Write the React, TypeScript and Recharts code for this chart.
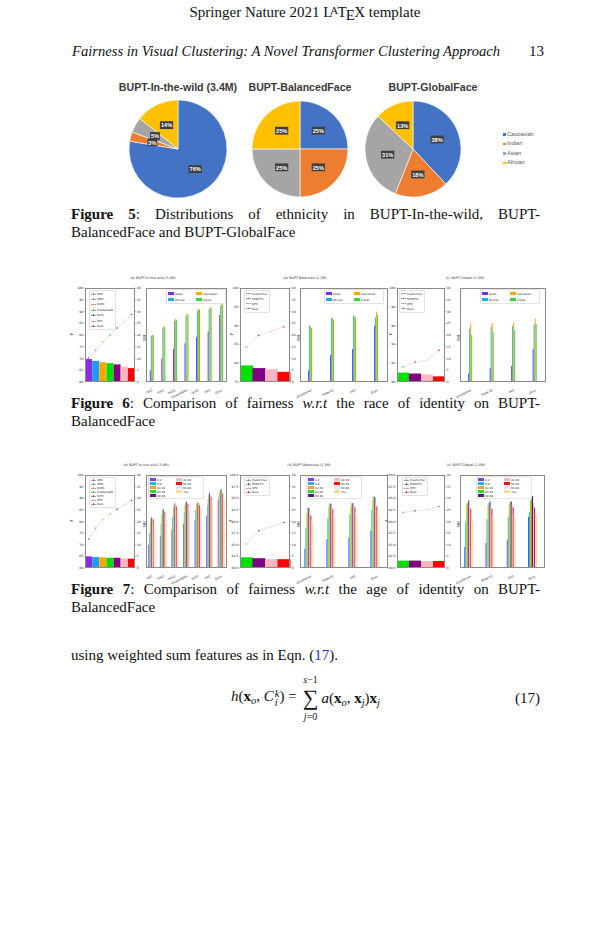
import React from 'react';
import { PieChart, Pie, Cell, ComposedChart, BarChart, Bar, Line, XAxis, YAxis } from 'recharts';

// ---------------- Figure 5 data ----------------
const ethnicities = ['Caucasian', 'Indian', 'Asian', 'African'];
const ethnicityColors = ['#4472C4', '#ED7D31', '#A5A5A5', '#FFC000'];
const wildShares = [76, 3, 5, 14];
const balancedShares = [25, 25, 25, 25];
const globalShares = [38, 18, 31, 13];

// ---------------- Figures 6 / 7 categories ----------------
const baselineMethods = ['DEC', 'IDEC', 'DCEC', 'ClusterGAN', 'ScFC', 'DFC', 'Ours'];
const baselineColors = ['#8A2BE2', '#1E9BFF', '#FFA500', '#00E000', '#800080', '#FFB6C1', '#FF0000'];
const graphMethods = ['Clusformer', 'STAR-FC', 'DFC', 'Ours'];
const graphColors = ['#00E000', '#800080', '#FFB6C1', '#FF0000'];
const raceGroups = ['Asian', 'African', 'Caucasian', 'Indian'];
const raceColors = ['#7B2FE0', '#1EAEF0', '#FFA500', '#3CD23C'];
const ageGroups = ['0-2', '3-9', '10-19', '20-29', '30-39', '40-49', '50-59', '60-69', '70+'];
const ageColors = ['#7B3FE4', '#22B8F0', '#FFA520', '#22E022', '#6A0D8A', '#FFB6C1', '#FF1010', '#DDE6F2', '#F3DC9A'];
const nmiTicks = [0, 5, 10, 15, 20, 25, 30, 35, 40];

// ---------------- Figure 6 (race) ----------------
const f6WildTicks = [60, 65, 70, 75, 80, 85, 90, 95, 100];
const f6WildFair = [69.8, 69.0, 68.4, 68.0, 67.5, 66.6, 65.9];
const f6WildNmi = [10.2, 13.5, 17.0, 20.0, 23.0, 25.5, 28.7];
const f6WildRace = [
  [5.0, 19.6, 20.2, 20.0],
  [10.0, 23.0, 23.8, 23.4],
  [14.0, 26.0, 26.8, 26.5],
  [16.5, 28.2, 29.0, 28.7],
  [19.0, 30.3, 31.0, 30.8],
  [21.5, 31.0, 31.8, 31.5],
  [28.5, 32.5, 33.4, 33.0],
];
const f6BalTicks = [75, 80, 85, 90, 95, 100];
const f6BalFair = [79.4, 78.7, 78.4, 77.7];
const f6BalNmi = [14.9, 19.8, 21.6, 23.4];
const f6BalRace = [
  [5.0, 24.0, 23.5, 23.0],
  [11.5, 27.5, 27.0, 26.5],
  [14.0, 28.3, 28.0, 27.5],
  [24.0, 27.5, 30.0, 28.5],
];
const f6GlobTicks = [90, 92, 94, 96, 98, 100];
const f6GlobFair = [91.0, 90.9, 90.8, 90.6];
const f6GlobNmi = [6.4, 8.5, 9.2, 13.5];
const f6GlobRace = [
  [3.6, 22.7, 24.8, 20.1],
  [6.0, 23.5, 25.2, 21.3],
  [6.8, 23.8, 25.2, 22.0],
  [14.2, 24.5, 27.0, 24.8],
];

// ---------------- Figure 7 (age) ----------------
const f7WildTicks = [60, 65, 70, 75, 80, 85, 90, 95, 100];
const f7WildFair = [65.0, 64.7, 64.6, 64.4, 64.4, 64.1, 64.0];
const f7WildNmi = [12.4, 17.1, 20.7, 23.3, 25.3, 27.1, 29.0];
const f7WildAge = [
  [10.0, 15.0, 20.0, 22.0, 21.5, 21.0, 21.0, 19.0, 18.0],
  [13.9, 19.0, 23.0, 25.0, 25.3, 24.5, 24.0, 22.0, 21.0],
  [16.4, 22.0, 26.0, 27.0, 27.9, 27.5, 26.5, 25.0, 24.0],
  [19.0, 24.0, 27.0, 28.0, 28.6, 28.0, 27.5, 26.0, 25.0],
  [20.7, 25.0, 27.5, 28.3, 28.0, 27.8, 27.0, 26.0, 25.0],
  [22.6, 27.0, 30.0, 31.5, 32.4, 31.0, 30.5, 29.0, 28.0],
  [29.3, 31.0, 33.0, 33.9, 33.5, 33.0, 32.0, 30.0, 29.0],
];
const f7HiTicks = [80, 82.5, 85, 87.5, 90, 92.5, 95, 97.5, 100];
const f7BalFair = [82.3, 82.1, 81.9, 81.9];
const f7BalNmi = [10.3, 16.0, 17.8, 19.6];
const f7BalAge = [
  [8.3, 17.1, 23.9, 26.1, 25.7, 24.3, 22.6, 20.7, 19.3],
  [12.4, 21.4, 26.1, 27.9, 27.6, 26.4, 25.3, 23.6, 22.0],
  [13.0, 23.0, 26.4, 28.1, 27.9, 27.1, 26.1, 24.0, 22.5],
  [16.0, 25.0, 29.3, 31.0, 30.4, 27.9, 26.6, 24.5, 23.0],
];
const f7GlobFair = [81.6, 81.6, 81.5, 81.5];
const f7GlobNmi = [23.9, 24.6, 25.0, 26.4];
const f7GlobAge = [
  [9.0, 20.0, 27.5, 28.0, 29.0, 26.5, 25.5, 22.5, 21.0],
  [10.7, 21.0, 27.0, 28.0, 28.6, 26.5, 25.5, 23.0, 21.5],
  [12.1, 22.0, 27.5, 28.5, 28.6, 27.0, 26.0, 23.5, 22.0],
  [22.0, 24.0, 29.0, 30.5, 31.0, 28.0, 26.0, 24.0, 22.5],
];

// ---------------- styling ----------------
const SERIF = '"Liberation Serif", "Times New Roman", serif';
const SANS = '"Liberation Sans", Arial, sans-serif';
const MINI = '"DejaVu Sans", sans-serif';
const RAD = Math.PI / 180;
const fmt1 = (v: number) => v.toFixed(1);

// ---------------- pies ----------------
function PieBlock({ values, cx, cy, r }: { values: number[]; cx: number; cy: number; r: number }) {
  const data = ethnicities.map((name, i) => ({ name, value: values[i] }));
  const W = 2 * r + 12;
  const renderLabel = (p: any) => {
    const rr = r * 0.54;
    const x = p.cx + rr * Math.cos(-p.midAngle * RAD);
    const y = p.cy + rr * Math.sin(-p.midAngle * RAD);
    const txt = `${values[p.index]}%`;
    const w = txt.length * 3.4 + 3;
    return (
      <g key={`lab${p.index}`}>
        <rect x={x - w / 2} y={y - 3.9} width={w} height={7.8} fill="#3F3F3F" />
        <text x={x} y={y + 0.3} fill="#fff" fontSize={5.6} fontWeight={700} fontFamily={SANS} textAnchor="middle" dominantBaseline="central">
          {txt}
        </text>
      </g>
    );
  };
  return (
    <div style={{ position: 'absolute', left: cx - W / 2, top: cy - W / 2 }}>
      <PieChart width={W} height={W} margin={{ top: 0, right: 0, bottom: 0, left: 0 }}>
        <Pie
          data={data}
          dataKey="value"
          nameKey="name"
          cx={W / 2}
          cy={W / 2}
          outerRadius={r}
          startAngle={90}
          endAngle={-270}
          stroke="#fff"
          strokeWidth={0.6}
          label={renderLabel}
          labelLine={false}
          isAnimationActive={false}
        >
          {data.map((d, i) => (
            <Cell key={d.name} fill={ethnicityColors[i]} />
          ))}
        </Pie>
      </PieChart>
    </div>
  );
}

// ---------------- mini charts ----------------
type LeftCfg = {
  x0: number; x1: number; axisW: number; rightW: number;
  cats: string[]; colors: string[]; bars: number[]; line: number[];
  domain: [number, number]; ticks: number[]; fmt?: (v: number) => string;
  legendX: number; legendRow: number;
};
type RightCfg = {
  x0: number; x1: number; cats: string[]; groups: string[]; colors: string[]; values: number[][];
  gap: string; legendX: number; legendRows: number; legendRow: number; legendColW: number;
};
type PanelCfg = { title: string; titleX: number; titleY: number; y0: number; y1: number; left: LeftCfg; right: RightCfg };

const tickStyle = { fontSize: 3, fill: '#222', fontFamily: MINI };

function FairChart({ c, y0, y1 }: { c: LeftCfg; y0: number; y1: number }) {
  const data = c.cats.map((m, i) => ({ m, v: c.bars[i], l: c.line[i] }));
  const padT = 3;
  const padB = 2;
  const width = c.axisW + (c.x1 - c.x0) + c.rightW;
  const height = padT + (y1 - y0) + padB;
  return (
    <div style={{ position: 'absolute', left: c.x0 - c.axisW, top: y0 - padT }}>
      <ComposedChart width={width} height={height} data={data} margin={{ top: padT, right: 0, bottom: padB, left: 0 }} barCategoryGap={0} barGap={0}>
        <XAxis dataKey="m" hide />
        <YAxis
          yAxisId="l" width={c.axisW} type="number" domain={c.domain} ticks={c.ticks} allowDataOverflow interval={0}
          tick={tickStyle} tickFormatter={c.fmt} tickSize={1.2} tickMargin={0.6} axisLine={false}
          tickLine={{ stroke: '#333', strokeWidth: 0.3 }}
          label={{ value: 'P', angle: -90, position: 'insideLeft', offset: 1.5, fontSize: 3.2, fill: '#222' }}
        />
        <YAxis
          yAxisId="r" orientation="right" width={c.rightW} type="number" domain={[0, 40]} ticks={nmiTicks} interval={0}
          tick={tickStyle} tickSize={1.2} tickMargin={0.6} axisLine={false}
          tickLine={{ stroke: '#333', strokeWidth: 0.3 }}
          label={{ value: 'NMI', angle: -90, position: 'insideRight', offset: 1, fontSize: 3, fill: '#222' }}
        />
        <Bar yAxisId="l" dataKey="v" isAnimationActive={false}>
          {data.map((d, i) => (
            <Cell key={d.m} fill={c.colors[i]} />
          ))}
        </Bar>
        <Line
          yAxisId="r" dataKey="l" type="linear" stroke="#777" strokeWidth={0.35} strokeDasharray="0.8 0.6"
          isAnimationActive={false}
          dot={(p: any) => <circle key={`d${p.index}`} cx={p.cx} cy={p.cy} r={0.7} fill={c.colors[p.index]} />}
        />
      </ComposedChart>
    </div>
  );
}

function GroupChart({ c, y0, y1 }: { c: RightCfg; y0: number; y1: number }) {
  const data = c.cats.map((m, i) => {
    const row: Record<string, number | string> = { m };
    c.groups.forEach((g, j) => {
      row[g] = c.values[i][j];
    });
    return row;
  });
  const padL = 18;
  const labelH = 22;
  return (
    <div style={{ position: 'absolute', left: c.x0 - padL, top: y0 }}>
      <BarChart width={padL + c.x1 - c.x0} height={y1 - y0 + labelH} data={data} margin={{ top: 0, right: 0, bottom: 0, left: padL }} barGap={0} barCategoryGap={c.gap}>
        <XAxis
          dataKey="m" height={labelH} interval={0} tickLine={false} axisLine={false} angle={-26} textAnchor="end" tickMargin={1}
          tick={{ ...tickStyle, textAnchor: 'end' }}
        />
        <YAxis hide type="number" domain={[0, 40]} allowDataOverflow />
        {c.groups.map((g, j) => (
          <Bar key={g} dataKey={g} fill={c.colors[j]} isAnimationActive={false} />
        ))}
      </BarChart>
    </div>
  );
}

function Frame({ x0, x1, y0, y1 }: { x0: number; x1: number; y0: number; y1: number }) {
  return (
    <div style={{ position: 'absolute', left: x0, top: y0, width: x1 - x0, height: y1 - y0, border: '1px solid #8a8a8a', boxSizing: 'border-box', pointerEvents: 'none' }} />
  );
}

function LineLegend({ x, y, names, colors, row }: { x: number; y: number; names: string[]; colors: string[]; row: number }) {
  return (
    <div style={{ position: 'absolute', left: x, top: y, padding: '0.5px 1.5px 0.5px 1px', border: '1px solid #e2e2e2', borderRadius: 1, background: '#fff', fontFamily: MINI, fontSize: 2.8, color: '#222' }}>
      {names.map((n, i) => (
        <div key={n} style={{ height: row, display: 'flex', alignItems: 'center', whiteSpace: 'nowrap' }}>
          <span style={{ display: 'inline-block', position: 'relative', width: 4.5, height: 1, marginRight: 1.5 }}>
            <span style={{ position: 'absolute', left: 0, top: 0.4, width: 4.5, height: 0.3, background: '#aaa' }} />
            <span style={{ position: 'absolute', left: 1.5, top: -0.3, width: 1.5, height: 1.5, borderRadius: '50%', background: colors[i] }} />
          </span>
          {n}
        </div>
      ))}
    </div>
  );
}

function BarLegend({ x, y, names, colors, rows, row, colW }: { x: number; y: number; names: string[]; colors: string[]; rows: number; row: number; colW: number }) {
  return (
    <div style={{ position: 'absolute', left: x, top: y, display: 'grid', gridAutoFlow: 'column', gridTemplateRows: `repeat(${rows}, ${row}px)`, gridAutoColumns: `${colW}px`, fontFamily: MINI, fontSize: 2.8, color: '#222', padding: '0.5px 1px', border: '1px solid #e2e2e2', borderRadius: 1, background: '#fff' }}>
      {names.map((n, i) => (
        <div key={n} style={{ display: 'flex', alignItems: 'center', whiteSpace: 'nowrap' }}>
          <span style={{ display: 'inline-block', width: 5.5, height: 2.4, background: colors[i], marginRight: 1.5 }} />
          {n}
        </div>
      ))}
    </div>
  );
}

function MiniPanel({ p }: { p: PanelCfg }) {
  const { left: L, right: R } = p;
  return (
    <>
      <div style={{ position: 'absolute', left: p.titleX - 40, width: 80, top: p.titleY - 2, textAlign: 'center', fontFamily: MINI, fontSize: 3.4, lineHeight: '4px', color: '#333', whiteSpace: 'nowrap' }}>
        {p.title}
      </div>
      <FairChart c={L} y0={p.y0} y1={p.y1} />
      <Frame x0={L.x0} x1={L.x1} y0={p.y0} y1={p.y1} />
      <GroupChart c={R} y0={p.y0} y1={p.y1} />
      <Frame x0={R.x0} x1={R.x1} y0={p.y0} y1={p.y1} />
      <LineLegend x={L.legendX} y={p.y0 + 1.5} names={L.cats} colors={L.colors} row={L.legendRow} />
      <BarLegend x={R.legendX} y={p.y0 + 1} names={R.groups} colors={R.colors} rows={R.legendRows} row={R.legendRow} colW={R.legendColW} />
    </>
  );
}

const F6Y0 = 288;
const F6Y1 = 382;
const F7Y0 = 475;
const F7Y1 = 568;

const panels: PanelCfg[] = [
  {
    title: '(a) BUPT-In-the-wild (3.4M)', titleX: 153, titleY: 278, y0: F6Y0, y1: F6Y1,
    left: { x0: 85, x1: 135, axisW: 15, rightW: 11, cats: baselineMethods, colors: baselineColors, bars: f6WildFair, line: f6WildNmi, domain: [60, 100], ticks: f6WildTicks, legendX: 89, legendRow: 5.4 },
    right: { x0: 146, x1: 227, cats: baselineMethods, groups: raceGroups, colors: raceColors, values: f6WildRace, gap: '33%', legendX: 166, legendRows: 2, legendRow: 6, legendColW: 28 },
  },
  {
    title: '(b) BUPT-Balanced (1.3M)', titleX: 305, titleY: 278, y0: F6Y0, y1: F6Y1,
    left: { x0: 240, x1: 290, axisW: 10, rightW: 10, cats: graphMethods, colors: graphColors, bars: f6BalFair, line: f6BalNmi, domain: [75, 100], ticks: f6BalTicks, legendX: 244, legendRow: 5 },
    right: { x0: 300, x1: 388, cats: graphMethods, groups: raceGroups, colors: raceColors, values: f6BalRace, gap: '37%', legendX: 324, legendRows: 2, legendRow: 6, legendColW: 28 },
  },
  {
    title: '(c) BUPT-Global (2.0M)', titleX: 465, titleY: 278, y0: F6Y0, y1: F6Y1,
    left: { x0: 397, x1: 445, axisW: 8, rightW: 15, cats: graphMethods, colors: graphColors, bars: f6GlobFair, line: f6GlobNmi, domain: [90, 100], ticks: f6GlobTicks, legendX: 399, legendRow: 5 },
    right: { x0: 460, x1: 546, cats: graphMethods, groups: raceGroups, colors: raceColors, values: f6GlobRace, gap: '38%', legendX: 480, legendRows: 2, legendRow: 6, legendColW: 28 },
  },
  {
    title: '(a) BUPT-In-the-wild (3.4M)', titleX: 146, titleY: 465, y0: F7Y0, y1: F7Y1,
    left: { x0: 85, x1: 135, axisW: 15, rightW: 11, cats: baselineMethods, colors: baselineColors, bars: f7WildFair, line: f7WildNmi, domain: [60, 100], ticks: f7WildTicks, legendX: 89, legendRow: 4 },
    right: { x0: 146, x1: 227, cats: baselineMethods, groups: ageGroups, colors: ageColors, values: f7WildAge, gap: '20%', legendX: 148, legendRows: 5, legendRow: 4, legendColW: 26 },
  },
  {
    title: '(b) BUPT-Balanced (1.3M)', titleX: 309, titleY: 465, y0: F7Y0, y1: F7Y1,
    left: { x0: 240, x1: 290, axisW: 11, rightW: 10, cats: graphMethods, colors: graphColors, bars: f7BalFair, line: f7BalNmi, domain: [80, 100], ticks: f7HiTicks, fmt: fmt1, legendX: 244, legendRow: 4 },
    right: { x0: 300, x1: 388, cats: graphMethods, groups: ageGroups, colors: ageColors, values: f7BalAge, gap: '20%', legendX: 306, legendRows: 5, legendRow: 4, legendColW: 26 },
  },
  {
    title: '(c) BUPT-Global (2.0M)', titleX: 466, titleY: 465, y0: F7Y0, y1: F7Y1,
    left: { x0: 397, x1: 445, axisW: 12, rightW: 15, cats: graphMethods, colors: graphColors, bars: f7GlobFair, line: f7GlobNmi, domain: [80, 100], ticks: f7HiTicks, fmt: fmt1, legendX: 402, legendRow: 4 },
    right: { x0: 460, x1: 545, cats: graphMethods, groups: ageGroups, colors: ageColors, values: f7GlobAge, gap: '20%', legendX: 476, legendRows: 5, legendRow: 4, legendColW: 26 },
  },
];

// ---------------- text ----------------
const BODY = 15;
const textBase: React.CSSProperties = { position: 'absolute', fontFamily: SERIF, fontSize: BODY, lineHeight: '18px', color: '#111', whiteSpace: 'nowrap' };

function LaTeX() {
  return (
    <span>
      L
      <span style={{ fontSize: '0.72em', verticalAlign: '0.28em', marginLeft: '-0.2em', marginRight: '-0.06em' }}>A</span>
      T
      <span style={{ position: 'relative', top: '0.22em', marginLeft: '-0.06em', marginRight: '-0.04em' }}>E</span>
      X
    </span>
  );
}

function Caption({ top, num, line1, line2 }: { top: number; num: number; line1: React.ReactNode; line2: string }) {
  return (
    <div style={{ position: 'absolute', left: 71, top, width: 469, fontFamily: SERIF, fontSize: BODY, lineHeight: '18px', color: '#111' }}>
      <div style={{ textAlign: 'justify', textAlignLast: 'justify' }}>
        <b>Figure {num}</b>: {line1}
      </div>
      <div>{line2}</div>
    </div>
  );
}

const subS: React.CSSProperties = { fontSize: 10.5, verticalAlign: '-3px', lineHeight: 0 };

export default function App() {
  return (
    <div style={{ position: 'absolute', left: 0, top: 0, width: 610, height: 925, background: '#fff', overflow: 'hidden' }}>
      <div style={{ ...textBase, left: 0, width: 610, top: 1, textAlign: 'center' }}>
        Springer Nature 2021 <LaTeX /> template
      </div>
      <div style={{ ...textBase, left: 72, top: 42, fontStyle: 'italic', fontSize: 14.6 }}>
        Fairness in Visual Clustering: A Novel Transformer Clustering Approach
      </div>
      <div style={{ ...textBase, left: 529, top: 42 }}>13</div>

      {/* Figure 5 */}
      <div style={{ position: 'absolute', left: 178, top: 81, transform: 'translateX(-50%)', fontFamily: SANS, fontWeight: 700, fontSize: 10.6, color: '#3a3a3a', whiteSpace: 'nowrap' }}>BUPT-In-the-wild (3.4M)</div>
      <div style={{ position: 'absolute', left: 300, top: 81, transform: 'translateX(-50%)', fontFamily: SANS, fontWeight: 700, fontSize: 10.6, color: '#3a3a3a', whiteSpace: 'nowrap' }}>BUPT-BalancedFace</div>
      <div style={{ position: 'absolute', left: 433, top: 81, transform: 'translateX(-50%)', fontFamily: SANS, fontWeight: 700, fontSize: 10.6, color: '#3a3a3a', whiteSpace: 'nowrap' }}>BUPT-GlobalFace</div>
      <PieBlock values={wildShares} cx={178} cy={149} r={49} />
      <PieBlock values={balancedShares} cx={300} cy={149} r={48} />
      <PieBlock values={globalShares} cx={413} cy={149} r={48} />
      <div style={{ position: 'absolute', left: 503, top: 130, fontFamily: SANS, fontSize: 5.7, color: '#595959', lineHeight: '9.4px' }}>
        {ethnicities.map((n, i) => (
          <div key={n} style={{ display: 'flex', alignItems: 'center' }}>
            <span style={{ display: 'inline-block', width: 2.6, height: 2.6, background: ethnicityColors[i], marginRight: 1.3 }} />
            {n}
          </div>
        ))}
      </div>
      <Caption top={205} num={5} line1={<>Distributions of ethnicity in BUPT-In-the-wild, BUPT-</>} line2="BalancedFace and BUPT-GlobalFace" />

      {/* Figure 6 & 7 */}
      {panels.map((p, i) => (
        <MiniPanel key={i} p={p} />
      ))}
      <Caption top={394} num={6} line1={<>Comparison of fairness <i>w.r.t</i> the race of identity on BUPT-</>} line2="BalancedFace" />
      <Caption top={580} num={7} line1={<>Comparison of fairness <i>w.r.t</i> the age of identity on BUPT-</>} line2="BalancedFace" />

      <div style={{ ...textBase, left: 71, top: 646 }}>
        using weighted sum features as in Eqn. (<span style={{ color: '#2a2acc' }}>17</span>).
      </div>

      <div style={{ position: 'absolute', left: 71, width: 469, top: 672, height: 52, display: 'flex', justifyContent: 'center', alignItems: 'center', fontFamily: SERIF, fontSize: BODY, color: '#111', whiteSpace: 'nowrap' }}>
        <span>
          <i>h</i>(<b>x</b><sub style={subS}><i>o</i></sub>, <i>C</i>
          <span style={{ display: 'inline-flex', flexDirection: 'column', fontSize: 10.5, lineHeight: '9.5px', verticalAlign: 'middle', marginLeft: 1 }}>
            <i>k</i>
            <i>i</i>
          </span>
          ) =
        </span>
        <span style={{ display: 'inline-flex', flexDirection: 'column', alignItems: 'center', margin: '0 3px 0 6px', lineHeight: 1 }}>
          <span style={{ fontSize: 10, lineHeight: '10px', marginBottom: 3 }}><i>s</i>−1</span>
          <span style={{ fontSize: 22, lineHeight: '20px' }}>∑</span>
          <span style={{ fontSize: 10, lineHeight: '10px', marginTop: 4 }}><i>j</i>=0</span>
        </span>
        <span>
          <i>a</i>(<b>x</b><sub style={subS}><i>o</i></sub>, <b>x</b><sub style={subS}><i>j</i></sub>)<b>x</b><sub style={subS}><i>j</i></sub>
        </span>
      </div>
      <div style={{ ...textBase, left: 500, width: 40, textAlign: 'right', top: 689 }}>(17)</div>
    </div>
  );
}
